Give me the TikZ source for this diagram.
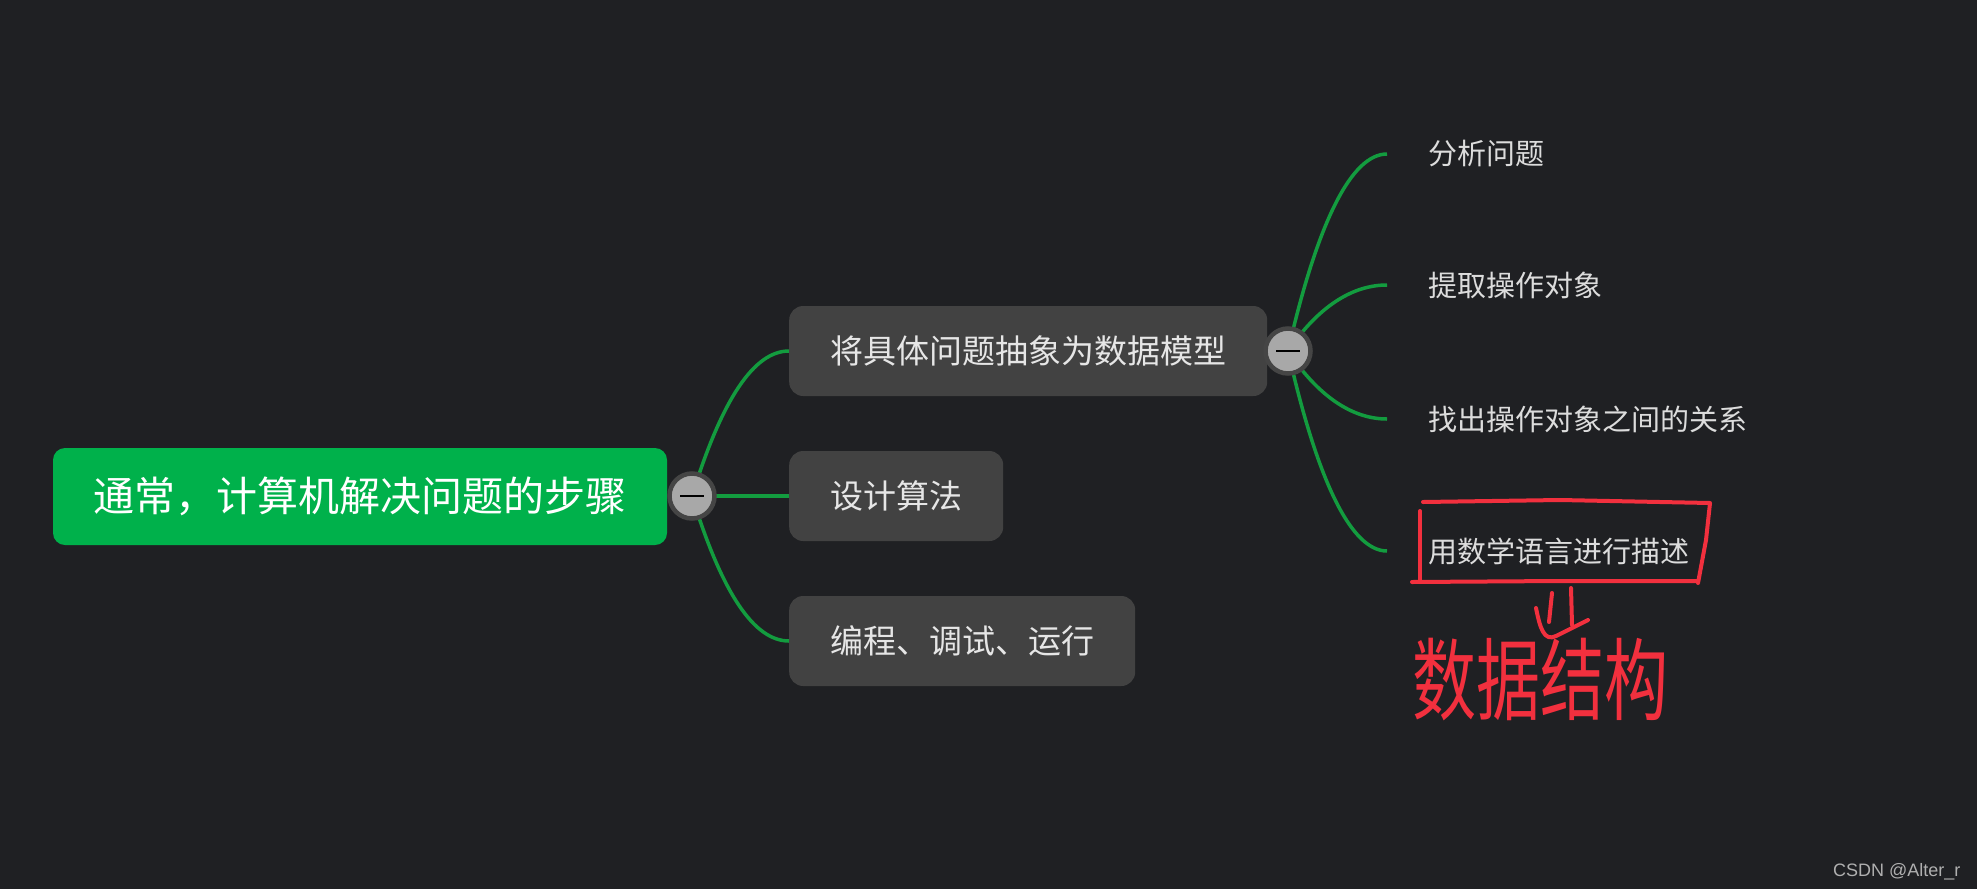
\documentclass[tikz,border=0pt]{standalone}
\usepackage{fontspec}
\setsansfont{Liberation Sans}
\newfontfamily\cjk{Noto Sans CJK SC}
\usetikzlibrary{calc}
\definecolor{bgc}{HTML}{1F2023}
\definecolor{rootgreen}{HTML}{00B14B}
\definecolor{boxgrey}{HTML}{424242}
\definecolor{linkgreen}{HTML}{139C3F}
\definecolor{togfill}{HTML}{A8A8A8}
\definecolor{togdraw}{HTML}{454545}
\definecolor{childtext}{HTML}{E6E6E6}
\definecolor{leaftext}{HTML}{DCDCDC}
\definecolor{handred}{HTML}{F2303E}
\definecolor{wmgrey}{HTML}{B0B0B0}
\pgfdeclarelayer{bglayer}
\pgfdeclarelayer{links}
\pgfsetlayers{bglayer,links,main}
\tikzset{
  rootbox/.style={fill=rootgreen, rounded corners=12pt, minimum width=614pt, minimum height=97pt,
    inner sep=0pt, text=white, font=\cjk\fontsize{41}{41}\selectfont},
  childbox/.style={fill=boxgrey, rounded corners=14pt, anchor=west, minimum height=90pt,
    inner xsep=41pt, inner ysep=0pt, text=childtext, font=\cjk\fontsize{33}{33}\selectfont},
  leaf/.style={anchor=west, inner xsep=41pt, inner ysep=4pt, text=leaftext,
    font=\cjk\fontsize{29}{29}\selectfont},
  toggle/.style={circle, fill=togfill, draw=togdraw, line width=4.5pt, minimum size=45pt, inner sep=0pt},
  minus/.style={draw=black, line width=2.5pt},
  link/.style={draw=linkgreen, line width=3.5pt},
  hand/.style={draw=handred, line width=4pt, line cap=round, line join=round}
}
\begin{document}
\begin{tikzpicture}[x=1pt,y=-1pt]
\begin{pgfonlayer}{bglayer}
\fill[bgc] (0,0) rectangle (1977,889);
\end{pgfonlayer}
\useasboundingbox (0,0) rectangle (1977,889);

% main nodes
\node[rootbox] (root) at (360,496.5) {通常，计算机解决问题的步骤};
\node[childbox] (ch1) at (789,351) {将具体问题抽象为数据模型};
\node[childbox] (ch2) at (789,496) {设计算法};
\node[childbox] (ch3) at (789,641) {编程、调试、运行};

\node[leaf] (g1) at (1387,154) {分析问题};
\node[leaf] (g2) at (1387,285) {提取操作对象};
\node[leaf] (g3) at (1387,419) {找出操作对象之间的关系};
\node[leaf] (g4) at (1387,551) {用数学语言进行描述};

% toggles
\node[toggle] (t1) at (692,496) {};
\node[toggle] (t2) at (1288,351) {};
\draw[minus] ([xshift=-12pt]t1.center) -- ([xshift=12pt]t1.center);
\draw[minus] ([xshift=-12pt]t2.center) -- ([xshift=12pt]t2.center);

% connectors
\begin{pgfonlayer}{links}
\draw[link] (t1.center) .. controls +(30,-97) and +(-35,0) .. (ch1.west);
\draw[link] (t1.center) -- (ch2.west);
\draw[link] (t1.center) .. controls +(30,97) and +(-35,0) .. (ch3.west);
\draw[link] (t2.center) .. controls +(30,-131) and +(-35,0) .. (g1.west);
\draw[link] (t2.center) .. controls +(30,-44) and +(-35,0) .. (g2.west);
\draw[link] (t2.center) .. controls +(30,45) and +(-35,0) .. (g3.west);
\draw[link] (t2.center) .. controls +(30,133) and +(-35,0) .. (g4.west);
\end{pgfonlayer}

% hand-drawn red annotation
\draw[hand] (1423,502) -- (1560,500) -- (1710,503) -- (1706,540) -- (1698,583);
\draw[hand] (1412,582) -- (1560,581) -- (1698,581);
\draw[hand] (1420,511) -- (1420,582);
\draw[hand] (1552,593) -- (1549,622);
\draw[hand] (1571,588) -- (1572,625);
\draw[hand] (1536,608) .. controls (1540,628) and (1544,642) .. (1556,636) -- (1588,620);
\node[text=handred, font=\cjk\fontsize{64}{64}\selectfont, inner sep=0pt] (ds) at (1540,680)
  {\scalebox{1}[1.4]{数据结构}};

% watermark
\node[anchor=base west, inner sep=0pt, text=wmgrey, font=\sffamily\fontsize{18}{18}\selectfont] (wm)
  at (1833,876) {CSDN @Alter\_r};
\end{tikzpicture}
\end{document}
